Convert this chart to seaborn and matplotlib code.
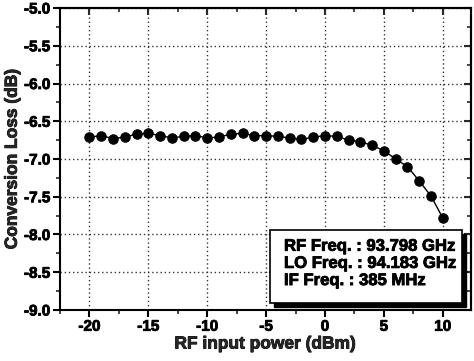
import matplotlib
matplotlib.use("Agg")
import matplotlib.pyplot as plt
import matplotlib.patheffects as pe
from matplotlib.patches import Rectangle
from matplotlib.ticker import MultipleLocator
import pandas as pd
import seaborn as sns

# data
rf_power = [-20, -19, -18, -17, -16, -15, -14, -13, -12, -11, -10,
            -9, -8, -7, -6, -5, -4, -3, -2, -1, 0,
            1, 2, 3, 4, 5, 6, 7, 8, 9, 10]
conv_loss = [-6.71, -6.69, -6.73, -6.71, -6.67, -6.66, -6.69, -6.72, -6.70, -6.69, -6.72,
             -6.71, -6.67, -6.66, -6.69, -6.69, -6.70, -6.72, -6.74, -6.71, -6.69,
             -6.70, -6.75, -6.77, -6.82, -6.89, -7.00, -7.10, -7.29, -7.49, -7.78]
x_ticks = [-20, -15, -10, -5, 0, 5, 10]
y_ticks = [-9.0, -8.5, -8.0, -7.5, -7.0, -6.5, -6.0, -5.5, -5.0]
info_lines = ["RF Freq. : 93.798 GHz", "LO Freq. : 94.183 GHz", "IF Freq. : 385 MHz"]

df = pd.DataFrame({"RF input power (dBm)": rf_power, "Conversion Loss (dB)": conv_loss})

sns.set_style("ticks")
plt.rcParams["font.family"] = ["Liberation Sans", "DejaVu Sans"]
plt.rcParams["font.weight"] = "bold"
plt.rcParams["axes.unicode_minus"] = False

# slight stroke so the bold text reads as heavy as the scanned original
heavy = [pe.withStroke(linewidth=0.6, foreground="black")]

fig = plt.figure(figsize=(4.74, 3.61), dpi=100)
ax = fig.add_axes([0.1266, 0.1413, 0.8671, 0.8365])

sns.lineplot(data=df, x="RF input power (dBm)", y="Conversion Loss (dB)", ax=ax,
             color="black", linewidth=1.0, marker="o", markersize=6.8,
             markeredgecolor="black", markerfacecolor="black", zorder=3)

ax.set_xlim(-22.5, 12.4)
ax.set_ylim(-9.0, -5.0)
ax.set_xticks(x_ticks, [str(v) for v in x_ticks], fontsize=11, fontweight="bold",
              path_effects=heavy)
ax.set_yticks(y_ticks, [f"{v:.1f}" for v in y_ticks], fontsize=11, fontweight="bold",
              path_effects=heavy)
ax.xaxis.set_minor_locator(MultipleLocator(2.5))
ax.yaxis.set_minor_locator(MultipleLocator(0.25))

ax.grid(True, which="major", linestyle=(0, (1, 2)), color="#333333", linewidth=1.0)

for s in ax.spines.values():
    s.set_linewidth(1.5)
    s.set_color("black")

ax.tick_params(which="major", direction="out", length=5, width=1.5, colors="black", pad=2)
ax.tick_params(which="minor", direction="out", length=3, width=1.2)

# mirrored ticks on top/right pointing inward
top = ax.secondary_xaxis("top")
top.xaxis.set_major_locator(MultipleLocator(5))
top.xaxis.set_minor_locator(MultipleLocator(2.5))
top.tick_params(which="major", direction="in", length=5, width=1.5, labeltop=False)
top.tick_params(which="minor", direction="in", length=3, width=1.2)
right = ax.secondary_yaxis("right")
right.yaxis.set_major_locator(MultipleLocator(0.5))
right.yaxis.set_minor_locator(MultipleLocator(0.25))
right.tick_params(which="major", direction="in", length=5, width=1.5, labelright=False)
right.tick_params(which="minor", direction="in", length=3, width=1.2)
for sec in (top, right):
    for s in sec.spines.values():
        s.set_linewidth(1.5)

ax.set_xlabel("RF input power (dBm)", fontsize=12.5, fontweight="bold", labelpad=2,
              path_effects=heavy)
ax.set_ylabel("Conversion Loss (dB)", fontsize=12.5, fontweight="bold", labelpad=3,
              path_effects=heavy)

# info box with a solid drop shadow
bx, by, bw, bh = 0.511, 0.023, 0.467, 0.242
sx, sy = 4 / 411, -4 / 302
ax.add_patch(Rectangle((bx + sx, by + sy), bw, bh, transform=ax.transAxes,
                       facecolor="black", edgecolor="black", zorder=5, clip_on=False))
ax.add_patch(Rectangle((bx, by), bw, bh, transform=ax.transAxes,
                       facecolor="white", edgecolor="black", linewidth=1.2, zorder=6,
                       clip_on=False))
ax.text(0.545, 0.236, "\n".join(info_lines), transform=ax.transAxes, ha="left", va="top",
        fontsize=12, fontweight="bold", linespacing=1.18, color="black", zorder=7,
        path_effects=heavy)

fig.savefig("out.png", dpi=100)
